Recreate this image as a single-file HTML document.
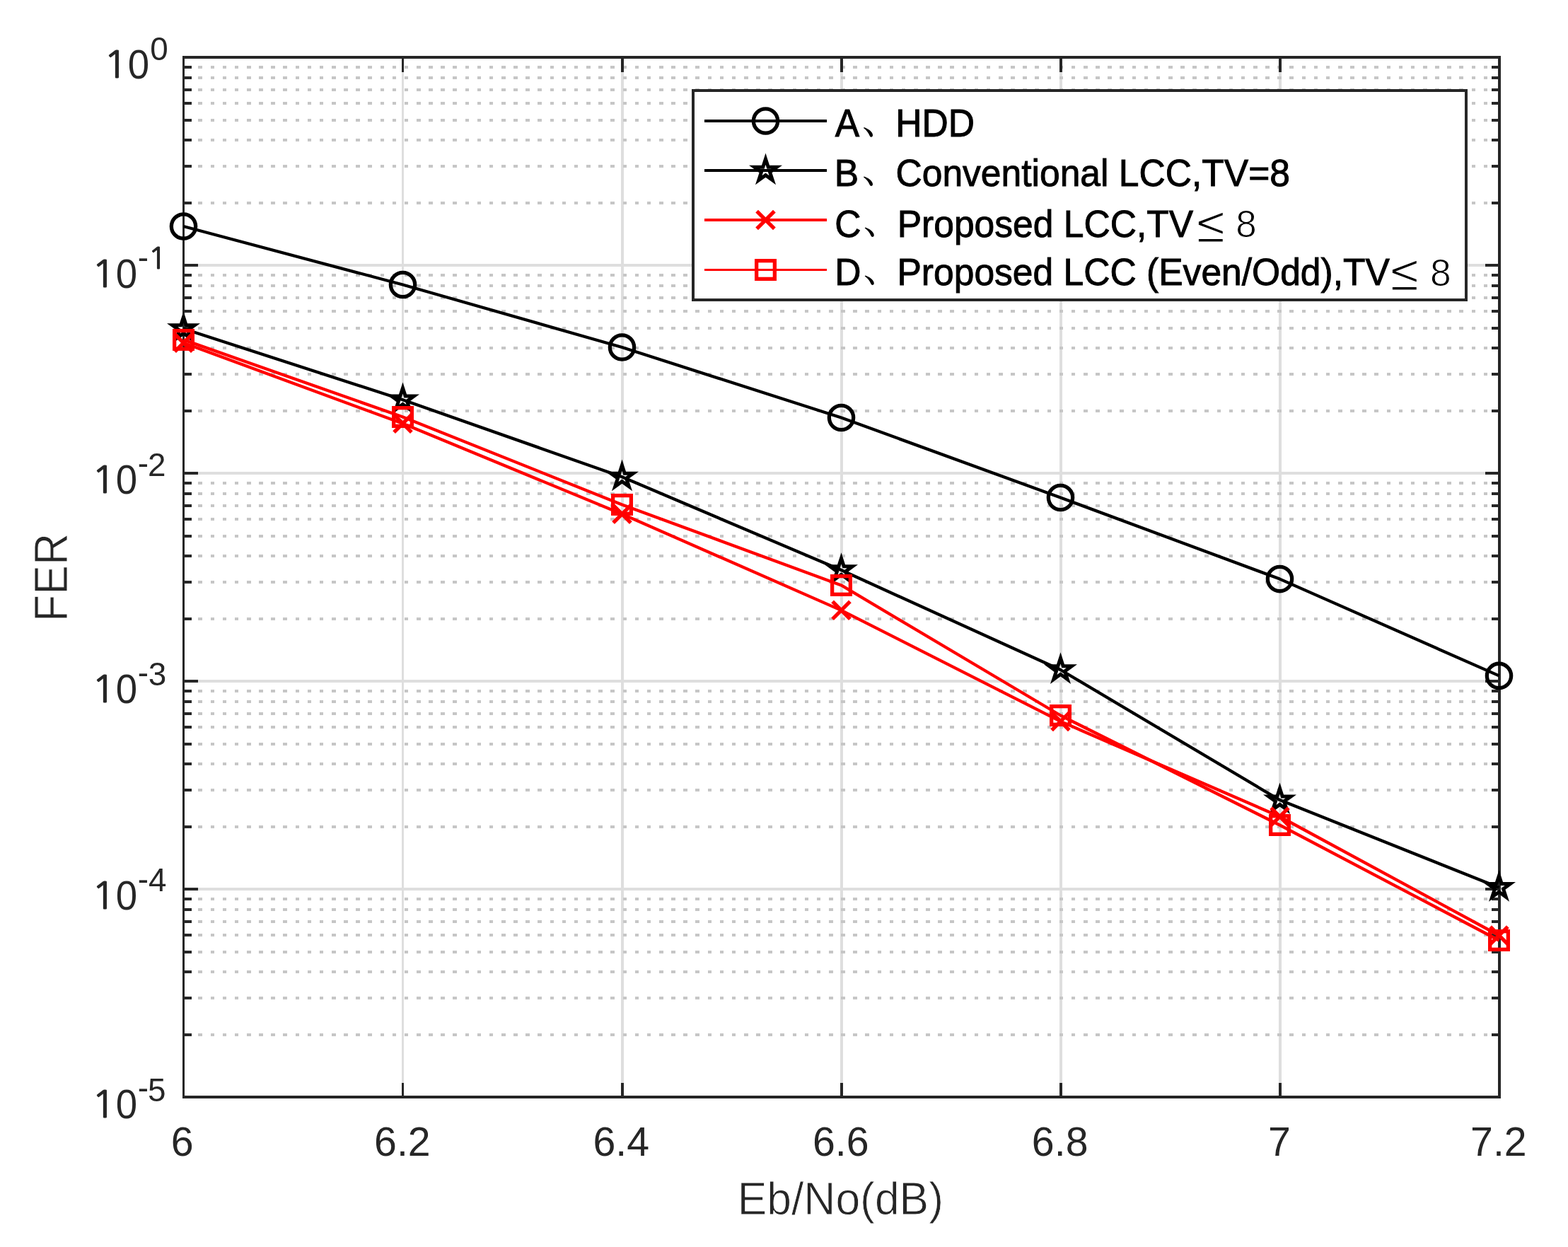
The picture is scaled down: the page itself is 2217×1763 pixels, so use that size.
<!DOCTYPE html>
<html lang="en">
<head>
<meta charset="utf-8">
<title>FER versus Eb/No</title>
<style>
html,body{margin:0;padding:0;background:#ffffff;}
body{width:2217px;height:1763px;overflow:hidden;}
svg{display:block;font-kerning:none;}
text{white-space:pre;font-kerning:none;}
</style>
</head>
<body>
<svg width="2217" height="1763" viewBox="0 0 2217 1763">
<rect x="0" y="0" width="2217" height="1763" fill="#ffffff"/>
<g shape-rendering="crispEdges">
<g fill="#dedede">
<rect x="568" y="102" width="3" height="1429"/>
<rect x="878" y="102" width="4" height="1429"/>
<rect x="1188" y="102" width="4" height="1429"/>
<rect x="1498" y="102" width="4" height="1429"/>
<rect x="1808" y="102" width="4" height="1429"/>
<rect x="280" y="373" width="1820" height="4"/>
<rect x="280" y="667" width="1820" height="4"/>
<rect x="280" y="961" width="1820" height="4"/>
<rect x="280" y="1255" width="1820" height="4"/>
</g>
<g stroke="#c6c6c6" stroke-width="4" stroke-dasharray="5.56 11.5845" fill="none">
<line x1="280.45" y1="287" x2="2106" y2="287"/>
<line x1="280.45" y1="235" x2="2106" y2="235"/>
<line x1="280.45" y1="198" x2="2106" y2="198"/>
<line x1="280.45" y1="170" x2="2106" y2="170"/>
<line x1="280.45" y1="146" x2="2106" y2="146"/>
<line x1="280.45" y1="127" x2="2106" y2="127"/>
<line x1="280.45" y1="110" x2="2106" y2="110"/>
<line x1="280.45" y1="95" x2="2106" y2="95"/>
<line x1="280.45" y1="581" x2="2106" y2="581"/>
<line x1="280.45" y1="529" x2="2106" y2="529"/>
<line x1="280.45" y1="492" x2="2106" y2="492"/>
<line x1="280.45" y1="464" x2="2106" y2="464"/>
<line x1="280.45" y1="440" x2="2106" y2="440"/>
<line x1="280.45" y1="421" x2="2106" y2="421"/>
<line x1="280.45" y1="404" x2="2106" y2="404"/>
<line x1="280.45" y1="389" x2="2106" y2="389"/>
<line x1="280.45" y1="875" x2="2106" y2="875"/>
<line x1="280.45" y1="823" x2="2106" y2="823"/>
<line x1="280.45" y1="786" x2="2106" y2="786"/>
<line x1="280.45" y1="758" x2="2106" y2="758"/>
<line x1="280.45" y1="734" x2="2106" y2="734"/>
<line x1="280.45" y1="715" x2="2106" y2="715"/>
<line x1="280.45" y1="698" x2="2106" y2="698"/>
<line x1="280.45" y1="683" x2="2106" y2="683"/>
<line x1="280.45" y1="1169" x2="2106" y2="1169"/>
<line x1="280.45" y1="1117" x2="2106" y2="1117"/>
<line x1="280.45" y1="1080" x2="2106" y2="1080"/>
<line x1="280.45" y1="1052" x2="2106" y2="1052"/>
<line x1="280.45" y1="1028" x2="2106" y2="1028"/>
<line x1="280.45" y1="1009" x2="2106" y2="1009"/>
<line x1="280.45" y1="992" x2="2106" y2="992"/>
<line x1="280.45" y1="977" x2="2106" y2="977"/>
<line x1="280.45" y1="1463" x2="2106" y2="1463"/>
<line x1="280.45" y1="1411" x2="2106" y2="1411"/>
<line x1="280.45" y1="1374" x2="2106" y2="1374"/>
<line x1="280.45" y1="1346" x2="2106" y2="1346"/>
<line x1="280.45" y1="1322" x2="2106" y2="1322"/>
<line x1="280.45" y1="1303" x2="2106" y2="1303"/>
<line x1="280.45" y1="1286" x2="2106" y2="1286"/>
<line x1="280.45" y1="1271" x2="2106" y2="1271"/>
</g>
<g fill="#262626">
<rect x="258" y="79" width="1864" height="4"/>
<rect x="258" y="1549" width="1864" height="4"/>
<rect x="258" y="79" width="3" height="1474"/>
<rect x="2118" y="79" width="4" height="1474"/>
<rect x="568" y="83" width="3" height="19"/>
<rect x="568" y="1531" width="3" height="18"/>
<rect x="878" y="83" width="4" height="19"/>
<rect x="878" y="1531" width="4" height="18"/>
<rect x="1188" y="83" width="4" height="19"/>
<rect x="1188" y="1531" width="4" height="18"/>
<rect x="1498" y="83" width="4" height="19"/>
<rect x="1498" y="1531" width="4" height="18"/>
<rect x="1808" y="83" width="4" height="19"/>
<rect x="1808" y="1531" width="4" height="18"/>
<rect x="261" y="373" width="19" height="4"/>
<rect x="2100" y="373" width="18" height="4"/>
<rect x="261" y="667" width="19" height="4"/>
<rect x="2100" y="667" width="18" height="4"/>
<rect x="261" y="961" width="19" height="4"/>
<rect x="2100" y="961" width="18" height="4"/>
<rect x="261" y="1255" width="19" height="4"/>
<rect x="2100" y="1255" width="18" height="4"/>
<rect x="261" y="285" width="10" height="4"/>
<rect x="2109" y="285" width="9" height="4"/>
<rect x="261" y="233" width="10" height="4"/>
<rect x="2109" y="233" width="9" height="4"/>
<rect x="261" y="196" width="10" height="4"/>
<rect x="2109" y="196" width="9" height="4"/>
<rect x="261" y="168" width="10" height="4"/>
<rect x="2109" y="168" width="9" height="4"/>
<rect x="261" y="144" width="10" height="4"/>
<rect x="2109" y="144" width="9" height="4"/>
<rect x="261" y="125" width="10" height="4"/>
<rect x="2109" y="125" width="9" height="4"/>
<rect x="261" y="108" width="10" height="4"/>
<rect x="2109" y="108" width="9" height="4"/>
<rect x="261" y="93" width="10" height="4"/>
<rect x="2109" y="93" width="9" height="4"/>
<rect x="261" y="579" width="10" height="4"/>
<rect x="2109" y="579" width="9" height="4"/>
<rect x="261" y="527" width="10" height="4"/>
<rect x="2109" y="527" width="9" height="4"/>
<rect x="261" y="490" width="10" height="4"/>
<rect x="2109" y="490" width="9" height="4"/>
<rect x="261" y="462" width="10" height="4"/>
<rect x="2109" y="462" width="9" height="4"/>
<rect x="261" y="438" width="10" height="4"/>
<rect x="2109" y="438" width="9" height="4"/>
<rect x="261" y="419" width="10" height="4"/>
<rect x="2109" y="419" width="9" height="4"/>
<rect x="261" y="402" width="10" height="4"/>
<rect x="2109" y="402" width="9" height="4"/>
<rect x="261" y="387" width="10" height="4"/>
<rect x="2109" y="387" width="9" height="4"/>
<rect x="261" y="873" width="10" height="4"/>
<rect x="2109" y="873" width="9" height="4"/>
<rect x="261" y="821" width="10" height="4"/>
<rect x="2109" y="821" width="9" height="4"/>
<rect x="261" y="784" width="10" height="4"/>
<rect x="2109" y="784" width="9" height="4"/>
<rect x="261" y="756" width="10" height="4"/>
<rect x="2109" y="756" width="9" height="4"/>
<rect x="261" y="732" width="10" height="4"/>
<rect x="2109" y="732" width="9" height="4"/>
<rect x="261" y="713" width="10" height="4"/>
<rect x="2109" y="713" width="9" height="4"/>
<rect x="261" y="696" width="10" height="4"/>
<rect x="2109" y="696" width="9" height="4"/>
<rect x="261" y="681" width="10" height="4"/>
<rect x="2109" y="681" width="9" height="4"/>
<rect x="261" y="1167" width="10" height="4"/>
<rect x="2109" y="1167" width="9" height="4"/>
<rect x="261" y="1115" width="10" height="4"/>
<rect x="2109" y="1115" width="9" height="4"/>
<rect x="261" y="1078" width="10" height="4"/>
<rect x="2109" y="1078" width="9" height="4"/>
<rect x="261" y="1050" width="10" height="4"/>
<rect x="2109" y="1050" width="9" height="4"/>
<rect x="261" y="1026" width="10" height="4"/>
<rect x="2109" y="1026" width="9" height="4"/>
<rect x="261" y="1007" width="10" height="4"/>
<rect x="2109" y="1007" width="9" height="4"/>
<rect x="261" y="990" width="10" height="4"/>
<rect x="2109" y="990" width="9" height="4"/>
<rect x="261" y="975" width="10" height="4"/>
<rect x="2109" y="975" width="9" height="4"/>
<rect x="261" y="1461" width="10" height="4"/>
<rect x="2109" y="1461" width="9" height="4"/>
<rect x="261" y="1409" width="10" height="4"/>
<rect x="2109" y="1409" width="9" height="4"/>
<rect x="261" y="1372" width="10" height="4"/>
<rect x="2109" y="1372" width="9" height="4"/>
<rect x="261" y="1344" width="10" height="4"/>
<rect x="2109" y="1344" width="9" height="4"/>
<rect x="261" y="1320" width="10" height="4"/>
<rect x="2109" y="1320" width="9" height="4"/>
<rect x="261" y="1301" width="10" height="4"/>
<rect x="2109" y="1301" width="9" height="4"/>
<rect x="261" y="1284" width="10" height="4"/>
<rect x="2109" y="1284" width="9" height="4"/>
<rect x="261" y="1269" width="10" height="4"/>
<rect x="2109" y="1269" width="9" height="4"/>
</g>
</g>
<polyline points="259.5,320 569.5,402.5 879.5,491 1189.5,590.5 1499.5,703.5 1809.5,818.6 2119.5,955.4" fill="none" stroke="#000000" stroke-width="4.3" stroke-linejoin="round"/>
<circle cx="259.5" cy="320" r="17.15" fill="none" stroke="#000000" stroke-width="5.3"/>
<circle cx="569.5" cy="402.5" r="17.15" fill="none" stroke="#000000" stroke-width="5.3"/>
<circle cx="879.5" cy="491" r="17.15" fill="none" stroke="#000000" stroke-width="5.3"/>
<circle cx="1189.5" cy="590.5" r="17.15" fill="none" stroke="#000000" stroke-width="5.3"/>
<circle cx="1499.5" cy="703.5" r="17.15" fill="none" stroke="#000000" stroke-width="5.3"/>
<circle cx="1809.5" cy="818.6" r="17.15" fill="none" stroke="#000000" stroke-width="5.3"/>
<circle cx="2119.5" cy="955.4" r="17.15" fill="none" stroke="#000000" stroke-width="5.3"/>
<polyline points="259.5,464.8 569.5,565.2 879.5,674.3 1189.5,806 1499.5,947 1809.5,1131.1 2119.5,1254.7" fill="none" stroke="#000000" stroke-width="4.3" stroke-linejoin="round"/>
<polygon points="259.50,448.19 263.23,459.67 275.30,459.67 265.53,466.76 269.26,478.24 259.50,471.14 249.74,478.24 253.47,466.76 243.70,459.67 255.77,459.67" fill="none" stroke="#000000" stroke-width="5.0" stroke-linejoin="miter" stroke-miterlimit="10"/>
<polygon points="569.50,548.59 573.23,560.07 585.30,560.07 575.53,567.16 579.26,578.64 569.50,571.54 559.74,578.64 563.47,567.16 553.70,560.07 565.77,560.07" fill="none" stroke="#000000" stroke-width="5.0" stroke-linejoin="miter" stroke-miterlimit="10"/>
<polygon points="879.50,657.69 883.23,669.17 895.30,669.17 885.53,676.26 889.26,687.74 879.50,680.64 869.74,687.74 873.47,676.26 863.70,669.17 875.77,669.17" fill="none" stroke="#000000" stroke-width="5.0" stroke-linejoin="miter" stroke-miterlimit="10"/>
<polygon points="1189.50,789.39 1193.23,800.87 1205.30,800.87 1195.53,807.96 1199.26,819.44 1189.50,812.34 1179.74,819.44 1183.47,807.96 1173.70,800.87 1185.77,800.87" fill="none" stroke="#000000" stroke-width="5.0" stroke-linejoin="miter" stroke-miterlimit="10"/>
<polygon points="1499.50,930.39 1503.23,941.87 1515.30,941.87 1505.53,948.96 1509.26,960.44 1499.50,953.34 1489.74,960.44 1493.47,948.96 1483.70,941.87 1495.77,941.87" fill="none" stroke="#000000" stroke-width="5.0" stroke-linejoin="miter" stroke-miterlimit="10"/>
<polygon points="1809.50,1114.49 1813.23,1125.97 1825.30,1125.97 1815.53,1133.06 1819.26,1144.54 1809.50,1137.44 1799.74,1144.54 1803.47,1133.06 1793.70,1125.97 1805.77,1125.97" fill="none" stroke="#000000" stroke-width="5.0" stroke-linejoin="miter" stroke-miterlimit="10"/>
<polygon points="2119.50,1238.09 2123.23,1249.57 2135.30,1249.57 2125.53,1256.66 2129.26,1268.14 2119.50,1261.04 2109.74,1268.14 2113.47,1256.66 2103.70,1249.57 2115.77,1249.57" fill="none" stroke="#000000" stroke-width="5.0" stroke-linejoin="miter" stroke-miterlimit="10"/>
<polyline points="259.5,484.8 569.5,598.8 879.5,726.8 1189.5,862.85 1499.5,1019.9 1809.5,1154.5 2119.5,1322.5" fill="none" stroke="#ff0000" stroke-width="4.3" stroke-linejoin="round"/>
<g fill="none" stroke="#ff0000" stroke-width="5.3"><line x1="247.1" y1="472.4" x2="271.9" y2="497.2"/><line x1="247.1" y1="497.2" x2="271.9" y2="472.4"/></g>
<g fill="none" stroke="#ff0000" stroke-width="5.3"><line x1="557.1" y1="586.4" x2="581.9" y2="611.2"/><line x1="557.1" y1="611.2" x2="581.9" y2="586.4"/></g>
<g fill="none" stroke="#ff0000" stroke-width="5.3"><line x1="867.1" y1="714.4" x2="891.9" y2="739.2"/><line x1="867.1" y1="739.2" x2="891.9" y2="714.4"/></g>
<g fill="none" stroke="#ff0000" stroke-width="5.3"><line x1="1177.1" y1="850.45" x2="1201.9" y2="875.25"/><line x1="1177.1" y1="875.25" x2="1201.9" y2="850.45"/></g>
<g fill="none" stroke="#ff0000" stroke-width="5.3"><line x1="1487.1" y1="1007.5" x2="1511.9" y2="1032.3"/><line x1="1487.1" y1="1032.3" x2="1511.9" y2="1007.5"/></g>
<g fill="none" stroke="#ff0000" stroke-width="5.3"><line x1="1797.1" y1="1142.1" x2="1821.9" y2="1166.9"/><line x1="1797.1" y1="1166.9" x2="1821.9" y2="1142.1"/></g>
<g fill="none" stroke="#ff0000" stroke-width="5.3"><line x1="2107.1" y1="1310.1" x2="2131.9" y2="1334.9"/><line x1="2107.1" y1="1334.9" x2="2131.9" y2="1310.1"/></g>
<polyline points="259.5,480.4 569.5,589.5 879.5,713.45 1189.5,827.45 1499.5,1011.5 1809.5,1166.5 2119.5,1329.5" fill="none" stroke="#ff0000" stroke-width="4.3" stroke-linejoin="round"/>
<rect x="246.65" y="467.55" width="25.7" height="25.7" fill="none" stroke="#ff0000" stroke-width="5.3"/>
<rect x="556.65" y="576.65" width="25.7" height="25.7" fill="none" stroke="#ff0000" stroke-width="5.3"/>
<rect x="866.65" y="700.6" width="25.7" height="25.7" fill="none" stroke="#ff0000" stroke-width="5.3"/>
<rect x="1176.65" y="814.6" width="25.7" height="25.7" fill="none" stroke="#ff0000" stroke-width="5.3"/>
<rect x="1486.65" y="998.65" width="25.7" height="25.7" fill="none" stroke="#ff0000" stroke-width="5.3"/>
<rect x="1796.65" y="1153.65" width="25.7" height="25.7" fill="none" stroke="#ff0000" stroke-width="5.3"/>
<rect x="2106.65" y="1316.65" width="25.7" height="25.7" fill="none" stroke="#ff0000" stroke-width="5.3"/>
<g shape-rendering="crispEdges">
<rect x="978" y="126" width="1097" height="300" fill="#262626"/>
<rect x="982" y="130" width="1089" height="292" fill="#ffffff"/>
<rect x="996" y="169" width="173" height="4" fill="#000000"/>
<rect x="996" y="239" width="173" height="4" fill="#000000"/>
<rect x="996" y="309" width="173" height="4" fill="#ff0000"/>
<rect x="996" y="380" width="173" height="3" fill="#ff0000"/>
</g>
<circle cx="1082.5" cy="171" r="17.15" fill="none" stroke="#000000" stroke-width="5.3"/>
<polygon points="1082.50,224.69 1086.23,236.17 1098.30,236.17 1088.53,243.26 1092.26,254.74 1082.50,247.64 1072.74,254.74 1076.47,243.26 1066.70,236.17 1078.77,236.17" fill="none" stroke="#000000" stroke-width="5.0" stroke-linejoin="miter" stroke-miterlimit="10"/>
<g fill="none" stroke="#ff0000" stroke-width="5.3"><line x1="1070.1" y1="298.6" x2="1094.9" y2="323.4"/><line x1="1070.1" y1="323.4" x2="1094.9" y2="298.6"/></g>
<rect x="1069.65" y="368.65" width="25.7" height="25.7" fill="none" stroke="#ff0000" stroke-width="5.3"/>
<g>
<text transform="translate(0,193.15) scale(1,1.07)" font-family="'Liberation Sans', sans-serif" font-size="51.57" fill="#000000" stroke="#000000" stroke-width="0.9"><tspan x="1180.75" y="0">A</tspan><tspan x="1219.08" y="-3.52" font-family="'Liberation Sans', 'Noto Serif CJK SC', 'Noto Sans CJK SC', sans-serif" font-size="51.79" stroke="none">、</tspan><tspan x="1266.17" y="0">HDD</tspan></text>
<text transform="translate(0,263.10) scale(1,1.04)" font-family="'Liberation Sans', sans-serif" font-size="51.57" fill="#000000" stroke="#000000" stroke-width="0.9"><tspan x="1179.67" y="0">B</tspan><tspan x="1219.08" y="-3.50" font-family="'Liberation Sans', 'Noto Serif CJK SC', 'Noto Sans CJK SC', sans-serif" font-size="51.79" stroke="none">、</tspan><tspan x="1266.48" y="0">Conventional LCC,TV=8</tspan></text>
<text transform="translate(0,334.60) scale(1,1.04)" font-family="'Liberation Sans', sans-serif" font-size="51.57" fill="#000000" stroke="#000000" stroke-width="0.9"><tspan x="1180.28" y="0">C</tspan><tspan x="1220.88" y="-3.50" font-family="'Liberation Sans', 'Noto Serif CJK SC', 'Noto Sans CJK SC', sans-serif" font-size="51.79" stroke="none">、</tspan><tspan x="1268.67" y="0">Proposed LCC,TV</tspan><tspan x="1687.76" y="8.01" font-family="'DejaVu Sans', sans-serif" font-size="72.87" stroke="#ffffff" stroke-width="2.66" textLength="48.18" lengthAdjust="spacingAndGlyphs">≤</tspan><tspan stroke="none"> </tspan><tspan x="1747.29" y="0.53" font-size="52" stroke="#ffffff" stroke-width="1.0" textLength="29.51" lengthAdjust="spacingAndGlyphs">8</tspan></text>
<text transform="translate(0,403.10) scale(1,1.04)" font-family="'Liberation Sans', sans-serif" font-size="51.57" fill="#000000" stroke="#000000" stroke-width="0.9"><tspan x="1180.37" y="0">D</tspan><tspan x="1220.88" y="-3.50" font-family="'Liberation Sans', 'Noto Serif CJK SC', 'Noto Sans CJK SC', sans-serif" font-size="51.79" stroke="none">、</tspan><tspan x="1268.47" y="0">Proposed LCC (Even/Odd),TV</tspan><tspan x="1961.86" y="8.01" font-family="'DejaVu Sans', sans-serif" font-size="72.87" stroke="#ffffff" stroke-width="2.66" textLength="48.18" lengthAdjust="spacingAndGlyphs">≤</tspan><tspan stroke="none"> </tspan><tspan x="2022.08" y="0.53" font-size="52" stroke="#ffffff" stroke-width="1.0" textLength="29.75" lengthAdjust="spacingAndGlyphs">8</tspan></text>
</g>
<g>
<text transform="translate(241.87,1633.80) scale(1,1.005)" font-family="'Liberation Sans', sans-serif" font-size="57.3" fill="#262626">6</text>
<text transform="translate(529.06,1633.80) scale(1,1.005)" font-family="'Liberation Sans', sans-serif" font-size="57.3" fill="#262626">6.2</text>
<text transform="translate(838.46,1633.80) scale(1,1.005)" font-family="'Liberation Sans', sans-serif" font-size="57.3" fill="#262626">6.4</text>
<text transform="translate(1148.88,1633.80) scale(1,1.005)" font-family="'Liberation Sans', sans-serif" font-size="57.3" fill="#262626">6.6</text>
<text transform="translate(1458.86,1633.80) scale(1,1.005)" font-family="'Liberation Sans', sans-serif" font-size="57.3" fill="#262626">6.8</text>
<text transform="translate(1792.94,1633.80) scale(1,1.005)" font-family="'Liberation Sans', sans-serif" font-size="57.3" fill="#262626">7</text>
<text transform="translate(2079.04,1633.80) scale(1,1.005)" font-family="'Liberation Sans', sans-serif" font-size="57.3" fill="#262626">7.2</text>
</g>
<g>
<text transform="translate(0,110.90)" font-family="'Liberation Sans', sans-serif" font-size="57.3" fill="#262626"><tspan x="146.33" y="-0.66" font-family="NanumGothic, 'Liberation Sans', sans-serif" font-size="52.01" stroke="#262626" stroke-width="1.0" textLength="34.70" lengthAdjust="spacingAndGlyphs">1</tspan><tspan x="180.87" y="0" textLength="30.37" lengthAdjust="spacingAndGlyphs">0</tspan><tspan x="212.17" y="-25.50" font-size="45.8">0</tspan></text>
<text transform="translate(0,406.90)" font-family="'Liberation Sans', sans-serif" font-size="57.3" fill="#262626"><tspan x="129.37" y="-0.66" font-family="NanumGothic, 'Liberation Sans', sans-serif" font-size="52.01" stroke="#262626" stroke-width="1.0" textLength="34.70" lengthAdjust="spacingAndGlyphs">1</tspan><tspan x="163.87" y="0" textLength="30.37" lengthAdjust="spacingAndGlyphs">0</tspan><tspan x="194.86" y="-26.9" font-size="45.8">-</tspan><tspan x="209.24" y="-26.72" font-family="NanumGothic, 'Liberation Sans', sans-serif" font-size="41.29" stroke="#262626" stroke-width="1.0" textLength="26.70" lengthAdjust="spacingAndGlyphs">1</tspan></text>
<text transform="translate(0,697.90)" font-family="'Liberation Sans', sans-serif" font-size="57.3" fill="#262626"><tspan x="129.37" y="-0.66" font-family="NanumGothic, 'Liberation Sans', sans-serif" font-size="52.01" stroke="#262626" stroke-width="1.0" textLength="34.70" lengthAdjust="spacingAndGlyphs">1</tspan><tspan x="163.87" y="0" textLength="30.37" lengthAdjust="spacingAndGlyphs">0</tspan><tspan x="194.86" y="-26.9" font-size="45.8">-</tspan><tspan x="209.00" y="-25.00" font-size="45.8">2</tspan></text>
<text transform="translate(0,994.00)" font-family="'Liberation Sans', sans-serif" font-size="57.3" fill="#262626"><tspan x="129.37" y="-0.66" font-family="NanumGothic, 'Liberation Sans', sans-serif" font-size="52.01" stroke="#262626" stroke-width="1.0" textLength="34.70" lengthAdjust="spacingAndGlyphs">1</tspan><tspan x="163.87" y="0" textLength="30.37" lengthAdjust="spacingAndGlyphs">0</tspan><tspan x="194.86" y="-26.9" font-size="45.8">-</tspan><tspan x="209.86" y="-25.50" font-size="45.8">3</tspan></text>
<text transform="translate(0,1285.90)" font-family="'Liberation Sans', sans-serif" font-size="57.3" fill="#262626"><tspan x="129.37" y="-0.66" font-family="NanumGothic, 'Liberation Sans', sans-serif" font-size="52.01" stroke="#262626" stroke-width="1.0" textLength="34.70" lengthAdjust="spacingAndGlyphs">1</tspan><tspan x="163.87" y="0" textLength="30.37" lengthAdjust="spacingAndGlyphs">0</tspan><tspan x="194.86" y="-26.9" font-size="45.8">-</tspan><tspan x="209.95" y="-26.00" font-size="45.8">4</tspan></text>
<text transform="translate(0,1580.80)" font-family="'Liberation Sans', sans-serif" font-size="57.3" fill="#262626"><tspan x="129.37" y="-0.66" font-family="NanumGothic, 'Liberation Sans', sans-serif" font-size="52.01" stroke="#262626" stroke-width="1.0" textLength="34.70" lengthAdjust="spacingAndGlyphs">1</tspan><tspan x="163.87" y="0" textLength="30.37" lengthAdjust="spacingAndGlyphs">0</tspan><tspan x="194.86" y="-26.9" font-size="45.8">-</tspan><tspan x="209.07" y="-24.30" font-size="45.8">5</tspan></text>
</g>
<g>
<text transform="translate(1042.68,1717.10) scale(1.00027,1.045)" font-family="'Liberation Sans', sans-serif" font-size="62.4" fill="#262626" stroke="#ffffff" stroke-width="0.8">Eb/No(dB)</text>
<text transform="translate(95.0,879.03) rotate(-90) scale(1.0027,1.068)" font-family="'Liberation Sans', sans-serif" font-size="62.4" fill="#262626" stroke="#ffffff" stroke-width="0.8">FER</text>
</g>
</svg>
</body>
</html>
